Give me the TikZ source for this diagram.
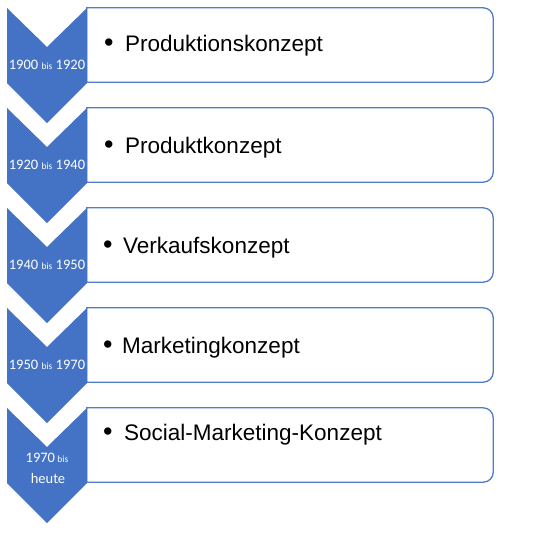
\documentclass[tikz,border=0pt]{standalone}
\usepackage{fontspec}
\setmainfont{Liberation Sans}
\newfontfamily\chevfont{Carlito}
\definecolor{chevblue}{HTML}{4472C4}
\definecolor{boxblue}{HTML}{4F7DCB}
\begin{document}
\begin{tikzpicture}[x=1pt,y=-1pt,
  boxarea/.style={minimum width=406pt,minimum height=74pt,inner sep=0pt},
  boxline/.style={draw=boxblue,line width=1.3pt,fill=white},
  chev/.style={fill=chevblue},
  item/.style={anchor=base west,inner sep=0pt,font=\fontsize{22.5}{26}\selectfont,text=black},
  dot/.style={anchor=base west,inner sep=0pt,font=\fontsize{27}{30}\selectfont,text=black},
  years/.style={anchor=base,inner sep=0pt,text=white,font=\chevfont\fontsize{14.5}{16}\selectfont}]
\useasboundingbox (0,0) rectangle (540,535);
\newcommand{\smallbis}{{\fontsize{9.5}{10}\selectfont bis}}
% boxes
\foreach \i in {0,...,4}{
  \pgfmathsetmacro{\t}{8+100*\i}
  \node[boxarea] (box\i) at (290,\t+37) {};
  \draw[boxline] (box\i.north west) [rounded corners=10pt] -- (box\i.north east)
     -- (box\i.south east) [sharp corners] -- (box\i.south west) -- cycle;
}
% chevrons
\foreach \i in {0,...,4}{
  \pgfmathsetmacro{\t}{8+100*\i}
  \fill[chev] (7,\t) -- (47,\t+39) -- (87,\t) -- (87,\t+75) -- (47,\t+115) -- (7,\t+75) -- cycle;
}
% year labels
\node[years] (y0) at (47,69) {1900 \smallbis{} 1920};
\node[years] (y1) at (47,169) {1920 \smallbis{} 1940};
\node[years] (y2) at (47,269) {1940 \smallbis{} 1950};
\node[years] (y3) at (47,369) {1950 \smallbis{} 1970};
\node[years] (y4) at (47,462) {1970\,\smallbis};
\node[years] (y5) at (48,483) {heute};
% bullets and texts
\node[dot] (d0) at (104,52) {•};
\node[item] (t0) at (125,52) {Produktionskonzept};
\node[dot] (d1) at (104,153) {•};
\node[item] (t1) at (125,153) {Produktkonzept};
\node[dot] (d2) at (103,253) {•};
\node[item] (t2) at (123,253) {Verkaufskonzept};
\node[dot] (d3) at (103,353) {•};
\node[item] (t3) at (122,353) {Marketingkonzept};
\node[dot] (d4) at (103,440) {•};
\node[item] (t4) at (124,440) {Social-Marketing-Konzept};
\end{tikzpicture}
\end{document}
